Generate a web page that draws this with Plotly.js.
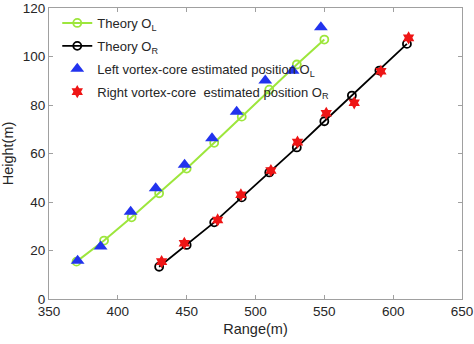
<!DOCTYPE html>
<html>
<head>
<meta charset="utf-8">
<script src="https://cdn.plot.ly/plotly-3.0.1.min.js"></script>
<style>html,body{margin:0;padding:0;background:#fff;}#chart{width:474px;height:344px;}</style>
</head>
<body>
<div id="chart"></div>
<script>
var theoryLx = [370, 390, 410, 430, 450, 470, 490, 510, 530, 550];
var theoryLy = [15.4, 24.1, 33.7, 43.6, 53.8, 64.4, 75.2, 86.3, 96.7, 107.0];
var estLx = [370.8, 387.5, 409.3, 427.5, 448.5, 468.4, 486.3, 507.1, 527.0, 547.5];
var estLy = [15.8, 21.7, 36.0, 45.7, 55.4, 66.3, 77.2, 90.1, 94.1, 112.1];
var theoryRx = [430, 450, 470, 490, 510, 530, 550, 570, 590, 610];
var theoryRy = [13.3, 22.3, 31.6, 41.9, 52.2, 62.5, 73.3, 83.9, 94.2, 105.2];
var estRx = [431.8, 448.3, 472.5, 489.4, 511.2, 530.5, 551.4, 571.7, 591.1, 611.2];
var estRy = [15.4, 23.0, 32.6, 43.0, 53.0, 64.7, 76.6, 80.9, 93.9, 107.7];
var xTicks = [350, 400, 450, 500, 550, 600, 650];
var yTicks = [0, 20, 40, 60, 80, 100, 120];
var names = ['Theory O<sub>L</sub>', 'Theory O<sub>R</sub>',
  'Left vortex-core estimated position O<sub>L</sub>',
  'Right vortex-core&nbsp; estimated position O<sub>R</sub>'];

var font = 'Liberation Sans, Arial, sans-serif';
var green = '#9de63c';
var traces = [
  {x: theoryLx, y: theoryLy, name: names[0], legendgroup: 'a', mode: 'lines+markers', type: 'scatter',
   line: {color: green, width: 2}, marker: {symbol: 'circle-open', size: 8, color: green, line: {width: 1.8, color: green}}},
  {x: theoryRx, y: theoryRy, name: names[1], legendgroup: 'b', mode: 'lines+markers', type: 'scatter',
   line: {color: '#000', width: 1.8}, marker: {symbol: 'circle-open', size: 8, color: '#000', line: {width: 1.8, color: '#000'}}},
  {x: estLx, y: estLy, name: names[2], legendgroup: 'c', mode: 'markers', type: 'scatter',
   marker: {symbol: 'triangle-up', size: 12, color: '#2233ee'}},
  {x: estRx, y: estRy, name: names[3], legendgroup: 'd', mode: 'markers', type: 'scatter',
   marker: {symbol: 'hexagram', size: 10, color: '#ee1515', line: {width: 0}}}
];

var axisCommon = {
  showgrid: false, zeroline: false, showline: true, mirror: 'ticks',
  linecolor: '#a0a0a0', linewidth: 1, ticks: 'inside', ticklen: 4, tickcolor: '#a0a0a0',
  tickfont: {family: font, size: 13.5, color: '#262626'}
};

var layout = {
  width: 474, height: 344,
  margin: {l: 49, r: 12, t: 8, b: 45},
  paper_bgcolor: '#fff', plot_bgcolor: '#fff',
  showlegend: true,
  legend: {x: 0.02, y: 1.0, xanchor: 'left', yanchor: 'top', bgcolor: 'rgba(0,0,0,0)',
    font: {family: font, size: 13, color: '#262626'},
    tracegroupgap: 3},
  xaxis: Object.assign({}, axisCommon, {range: [350, 650], tickvals: xTicks, ticktext: xTicks.map(String),
    title: {text: 'Range(m)', standoff: 5, font: {family: font, size: 14.5, color: '#262626'}}}),
  yaxis: Object.assign({}, axisCommon, {range: [0, 120], tickvals: yTicks, ticktext: yTicks.map(String),
    title: {text: 'Height(m)', standoff: 6, font: {family: font, size: 14.5, color: '#262626'}}})
};

Plotly.newPlot('chart', traces, layout, {displayModeBar: false, staticPlot: true});
</script>
</body>
</html>
